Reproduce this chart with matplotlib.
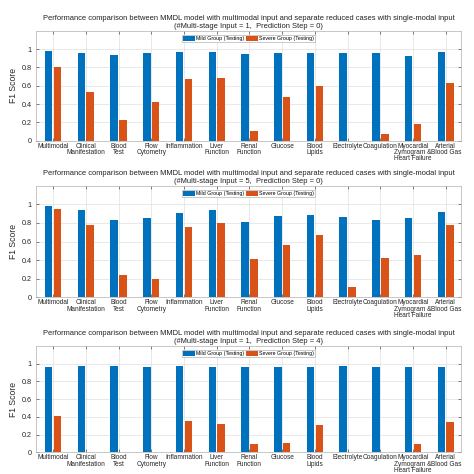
import numpy as np
import matplotlib
matplotlib.use('Agg')
import matplotlib.pyplot as plt

# 类别
categories = ['Multimodal', 'Clinical\nManifestation', 'Blood\nTest', 'Flow\nCytometry',
              'Inflammation', 'Liver\nFunction', 'Renal\nFunction', 'Glucose', 'Blood\nLipids',
              'Electrolyte', 'Coagulation', 'Myocardial\nZymogram &\nHeart Failure',
              'Arterial\nBlood Gas']

subtitles = ['(#Multi-stage Input = 1,  Prediction Step = 0)',
             '(#Multi-stage Input = 5,  Prediction Step = 0)',
             '(#Multi-stage Input = 1,  Prediction Step = 4)']

# 每个子图的数据
mild_1 = [0.982, 0.960, 0.935, 0.960, 0.970, 0.964, 0.942, 0.960, 0.960, 0.953, 0.953, 0.920, 0.964]
severe_1 = [0.81, 0.53, 0.225, 0.42, 0.674, 0.69, 0.11, 0.48, 0.60, 0.0, 0.072, 0.18, 0.627]

mild_2 = [0.986, 0.935, 0.83, 0.848, 0.91, 0.935, 0.81, 0.87, 0.89, 0.866, 0.83, 0.856, 0.92]
severe_2 = [0.953, 0.773, 0.235, 0.2, 0.758, 0.80, 0.41, 0.563, 0.668, 0.108, 0.42, 0.458, 0.773]

mild_3 = [0.964, 0.971, 0.971, 0.960, 0.975, 0.964, 0.960, 0.964, 0.960, 0.971, 0.964, 0.964, 0.964]
severe_3 = [0.413, 0.0, 0.0, 0.0, 0.351, 0.319, 0.09, 0.10, 0.31, 0.0, 0.0, 0.098, 0.337]

mild_all = [mild_1, mild_2, mild_3]
severe_all = [severe_1, severe_2, severe_3]

title_main = 'Performance comparison between MMDL model with multimodal input and separate reduced cases with single-modal input'

blue = '#0072BD'
orange = '#D95319'

plt.rcParams['font.family'] = ['Liberation Sans', 'DejaVu Sans']

fig = plt.figure(figsize=(4.74, 4.74), dpi=100)

# 子图位置 (left, bottom, width, height)
positions = [(0.076, 0.703, 0.897, 0.232),
             (0.076, 0.373, 0.897, 0.235),
             (0.076, 0.046, 0.897, 0.224)]

x = np.arange(len(categories))
w = 0.23
off = 0.135

for i in range(3):
    ax = fig.add_axes(positions[i])
    ax.bar(x - off, mild_all[i], w, color=blue, label='Mild Group (Testing)', zorder=3)
    ax.bar(x + off, severe_all[i], w, color=orange, label='Severe Group (Testing)', zorder=3)
    ax.set_xlim(-0.52, 12.47)
    ax.set_ylim(0, 1.2)
    ax.set_yticks([0, 0.2, 0.4, 0.6, 0.8, 1])
    ax.set_yticklabels(['0', '0.2', '0.4', '0.6', '0.8', '1'])
    ax.set_xticks(x)
    ax.set_xticklabels(categories, fontsize=4.7, linespacing=0.85)
    ax.tick_params(axis='y', labelsize=5.2, colors='#262626', direction='in', length=2, width=0.4,
                   right=True, pad=3)
    ax.tick_params(axis='x', colors='#262626', direction='in', length=2, width=0.4, top=True, pad=1.5)
    ax.grid(True, color='#d9d9d9', linewidth=0.4, zorder=0)
    for s in ax.spines.values():
        s.set_color('#b0b0b0')
        s.set_linewidth(0.5)
    ax.set_ylabel('F1 Score', fontsize=6.2, color='#262626', labelpad=3)
    ax.set_title(title_main + '\n' + subtitles[i], fontsize=5.4, color='#202020',
                 linespacing=1.2, pad=2)
    leg = ax.legend(loc='upper center', ncol=2, fontsize=3.8, frameon=True, fancybox=False,
                    edgecolor='#a0a0a0', framealpha=1, borderpad=0.2, handlelength=2.2,
                    handleheight=0.9, handletextpad=0.3, columnspacing=0.3,
                    bbox_to_anchor=(0.5, 0.985))
    leg.get_frame().set_linewidth(0.4)

fig.savefig('out.png', dpi=100)
